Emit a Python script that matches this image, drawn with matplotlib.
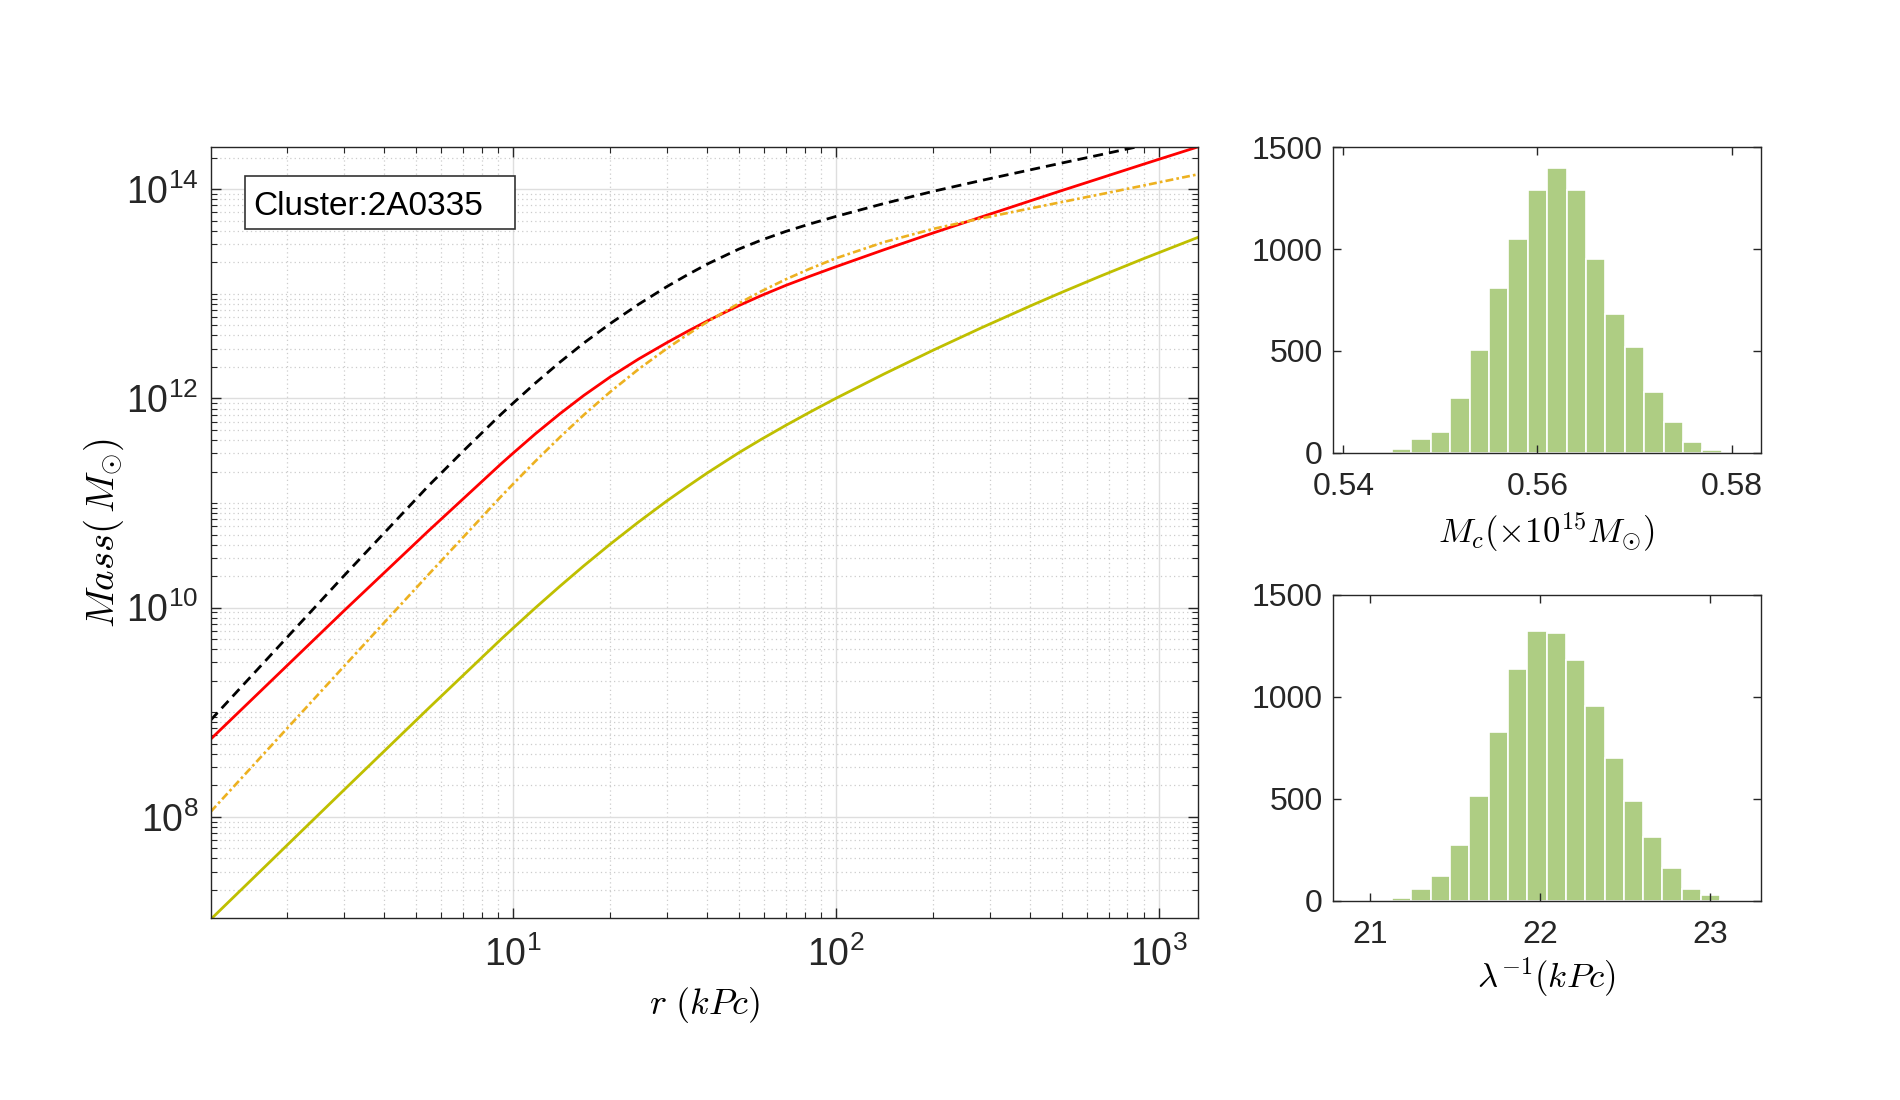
import numpy as np
import matplotlib
matplotlib.use("Agg")
import matplotlib.pyplot as plt
from matplotlib.ticker import LogLocator, NullFormatter, FixedLocator
from matplotlib.patches import Rectangle

plt.rcParams['font.family'] = ['Liberation Sans', 'DejaVu Sans']
plt.rcParams['mathtext.fontset'] = 'cm'

# radius grid (kPc) and log10 of mass (M_sun)
r = [1.16, 3, 5.5, 7.1, 9.2, 10, 11.75, 14, 16.6, 20, 24.5, 30, 34.7, 40, 50,
     58.9, 70, 83.2, 100, 141, 200, 282, 410, 501, 660, 891, 1327]
logm_red = [8.743, 9.970, 10.739, 11.055, 11.376, 11.475, 11.663, 11.855, 12.030, 12.205,
            12.377, 12.534, 12.641, 12.741, 12.887, 12.985, 13.081, 13.169, 13.259,
            13.422, 13.582, 13.735, 13.900, 13.988, 14.107, 14.237, 14.407]
logm_orange = [8.049, 9.439, 10.322, 10.690, 11.064, 11.180, 11.401, 11.631, 11.844, 12.062,
               12.280, 12.478, 12.610, 12.732, 12.908, 13.026, 13.139, 13.241, 13.340,
               13.495, 13.621, 13.722, 13.824, 13.878, 13.952, 14.034, 14.144]
logm_green = [7.02, 8.257, 9.042, 9.368, 9.699, 9.802, 9.999, 10.206, 10.401, 10.606,
              10.819, 11.021, 11.158, 11.288, 11.480, 11.611, 11.743, 11.870, 12.001,
              12.234, 12.461, 12.675, 12.899, 13.015, 13.170, 13.333, 13.542]
r_black = [1.16, 3, 5.5, 7.1, 9.2, 10, 11.75, 14, 16.6, 20, 24.5, 30, 34.7, 40, 50,
           58.9, 70, 83.2, 100, 141, 200, 282, 410, 501, 660, 857]
logm_black = [8.925, 10.305, 11.170, 11.512, 11.850, 11.953, 12.148, 12.348, 12.531, 12.715,
              12.900, 13.070, 13.182, 13.285, 13.427, 13.515, 13.597, 13.669, 13.740,
              13.864, 13.980, 14.084, 14.193, 14.251, 14.330, 14.406]

# histograms
mc_edges = [0.545 + 0.002 * k for k in range(18)]
mc_counts = [16, 67, 103, 269, 504, 809, 1050, 1290, 1397, 1290, 951, 681, 521, 298, 152, 54, 13]
lam_edges = [21.016 + 0.1137 * k for k in range(20)]
lam_counts = [3, 13, 59, 119, 273, 515, 826, 1137, 1323, 1315, 1181, 957, 702, 491, 312,
              162, 57, 29, 3]

axcol = '#262626'
histcol = (0.682, 0.802, 0.514)

fig = plt.figure(figsize=(19, 11), dpi=100)

# ================= main mass profile ===================
ax = fig.add_axes([0.1109, 0.1655, 0.5196, 0.7006])
ax.plot(r_black, 10 ** np.array(logm_black), color='black', lw=2, ls=(0, (3.6, 2.2)))
ax.plot(r, 10 ** np.array(logm_red), color='red', lw=2)
ax.plot(r, 10 ** np.array(logm_orange), color=(0.929, 0.694, 0.125), lw=1.9,
        ls=(0, (3, 1.2, 1, 1.2)))
ax.plot(r, 10 ** np.array(logm_green), color=(0.75, 0.75, 0.0), lw=2)

ax.set_xscale('log')
ax.set_yscale('log')
ax.set_xlim(1.16, 1322)
ax.set_ylim(1.08e7, 2.52e14)

ax.yaxis.set_major_locator(FixedLocator([1e8, 1e10, 1e12, 1e14]))
ax.yaxis.set_minor_locator(LogLocator(base=10, subs=np.arange(1, 10), numticks=50))
ax.yaxis.set_minor_formatter(NullFormatter())
ax.xaxis.set_major_locator(FixedLocator([10, 100, 1000]))
ax.xaxis.set_minor_locator(LogLocator(base=10, subs=np.arange(2, 10), numticks=50))
ax.xaxis.set_minor_formatter(NullFormatter())

ax.grid(which='major', color='#dedede', lw=1.0, ls='-')
ax.grid(which='minor', color='#cccccc', lw=0.9, ls=(0, (1, 2.5)))
ax.set_axisbelow(True)

ax.tick_params(which='both', direction='in', top=True, right=True, colors=axcol)
ax.tick_params(which='major', length=7, width=1, labelsize=27)
ax.tick_params(axis='x', which='major', pad=13)
ax.tick_params(axis='y', which='major', pad=9)
ax.tick_params(which='minor', length=4, width=0.8)
for s in ax.spines.values():
    s.set_color(axcol)
    s.set_linewidth(1)

ax.set_xlabel(r'$r\ (kPc)$', fontsize=26)
ax.set_ylabel(r'$Mass(\,M_{\odot})$', fontsize=28)
ax.xaxis.set_label_coords(0.5, -0.087)
ax.yaxis.set_label_coords(-0.086, 0.5)

ax.add_patch(Rectangle((0.035, 0.894), 0.2732, 0.0684, transform=ax.transAxes,
                       facecolor='white', edgecolor='#333333', lw=1.2, zorder=5))
ax.text(0.0428, 0.912, 'Cluster:2A0335', transform=ax.transAxes, fontsize=24,
        va='baseline', ha='left', zorder=6)


# ================= histograms ===================
def hist_panel(rect, edges, counts, xlim, xticks, xticklabels, label, ly):
    h = fig.add_axes(rect)
    widths = np.diff(edges)
    h.bar(edges[:-1], counts, width=widths, align='edge', color=histcol,
          edgecolor='white', linewidth=1.2)
    h.set_xlim(xlim)
    h.set_ylim(0, 1500)
    h.set_yticks([0, 500, 1000, 1500])
    h.set_xticks(xticks)
    h.set_xticklabels(xticklabels)
    h.tick_params(direction='in', top=True, right=True, length=6, width=1,
                  colors=axcol, labelsize=23)
    h.tick_params(axis='x', pad=14)
    h.tick_params(axis='y', pad=7)
    for s in h.spines.values():
        s.set_color(axcol)
        s.set_linewidth(1)
    h.set_xlabel(label, fontsize=25)
    h.xaxis.set_label_coords(0.5, ly)
    return h


hist_panel([0.7014, 0.5885, 0.2253, 0.2776], mc_edges, mc_counts, (0.5389, 0.5830),
           [0.54, 0.56, 0.58], ['0.54', '0.56', '0.58'],
           r'$M_c(\times10^{15}M_{\odot})$', -0.19)
hist_panel([0.7014, 0.1812, 0.2253, 0.2779], lam_edges, lam_counts, (20.78, 23.30),
           [21, 22, 23], ['21', '22', '23'],
           r'$\lambda^{-1}(kPc)$', -0.18)

fig.savefig('out.png', dpi=100)
